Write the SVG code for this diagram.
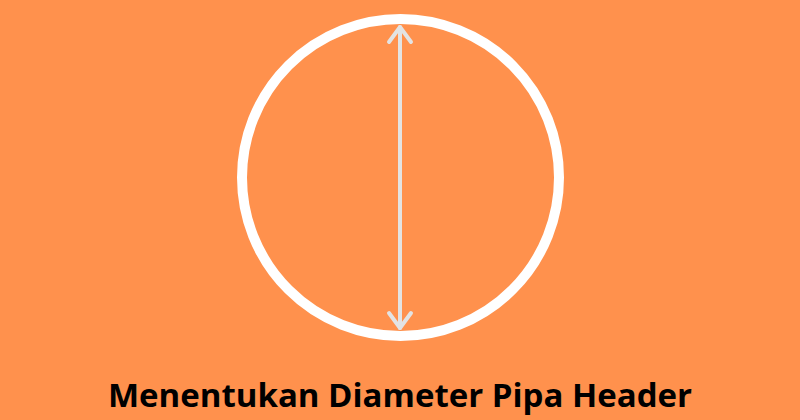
<svg xmlns="http://www.w3.org/2000/svg" width="800" height="420" viewBox="0 0 800 420">
<style>
.ring{fill:none;stroke:#ffffff;stroke-width:10}
.dim{fill:none;stroke:#e3e3e3;stroke-width:4;stroke-linecap:round;stroke-linejoin:round}
.title{font-family:"Open Sans","Noto Sans","Liberation Sans",sans-serif;font-weight:700;font-size:33px;fill:#000000}
</style>
<rect width="800" height="420" fill="#ff914d"/>
<g id="circle"><circle class="ring" cx="400.5" cy="177.5" r="158.5"/></g>
<g id="connectors">
<line class="dim" x1="400" y1="27" x2="400" y2="328"/>
<polyline class="dim" points="389,42 400,27 411,42"/>
<polyline class="dim" points="389,313 400,328 411,313"/>
</g>
<g id="title"><text class="title" x="400" y="407" text-anchor="middle">Menentukan Diameter Pipa Header</text></g>
</svg>
